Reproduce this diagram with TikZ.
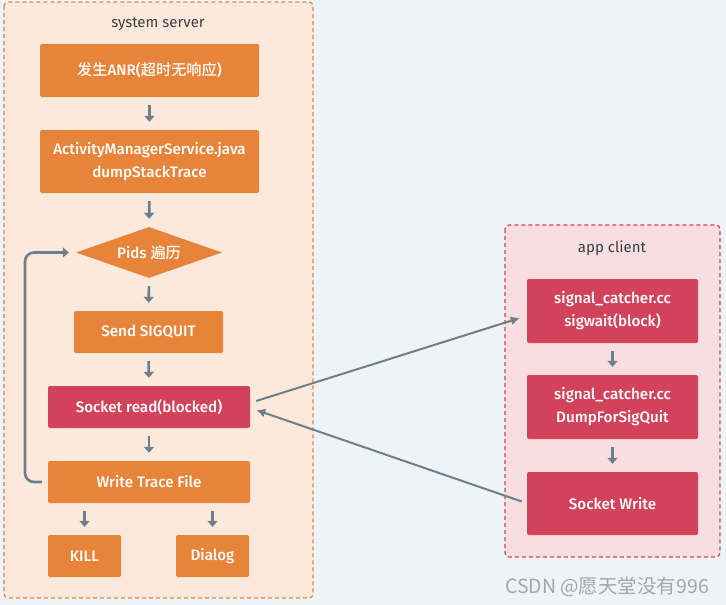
\documentclass[tikz,border=0pt]{standalone}
\usepackage{fontspec}
\setmainfont{Fira Sans}[UprightFont=* Medium]
\newfontfamily\lblfont{Fira Sans}
\newfontfamily\cjk{Noto Sans CJK SC}[UprightFont=* Medium]
\newfontfamily\wmfont{Noto Sans CJK SC}
\usetikzlibrary{shapes.geometric,arrows.meta,calc}
\definecolor{bgc}{HTML}{EEF3F7}
\definecolor{orc}{HTML}{E8843A}
\definecolor{crc}{HTML}{D2435B}
\definecolor{lpan}{HTML}{FCE9DC}
\definecolor{rpan}{HTML}{F8DDE1}
\definecolor{arc}{HTML}{6B7F8E}
\definecolor{labc}{HTML}{3A3F45}
\tikzset{
  obox/.style={fill=orc, rounded corners=2pt, text=white, align=center, font=\fontsize{15.2}{23}\selectfont, inner sep=0pt},
  cbox/.style={fill=crc, rounded corners=2pt, text=white, align=center, font=\fontsize{15.2}{23}\selectfont, inner sep=0pt},
  down/.style={draw=arc, line width=2.6pt, -{Triangle[width=10pt,length=6pt]}, shorten <=8pt, shorten >=8pt},
  cross/.style={draw=arc, line width=2pt, -{Latex[length=9pt,width=9pt]}},
  panel/.style={rounded corners=4pt, dashed, line width=1.2pt, dash pattern=on 4pt off 3pt},
  plabel/.style={text=labc, font=\lblfont\fontsize{15}{18}\selectfont}
}
\begin{document}
\begin{tikzpicture}[x=1pt,y=-1pt]
\useasboundingbox[fill=bgc] (0,0) rectangle (726,605);
% panels
\draw[panel, draw=orc, fill=lpan] (4,2) rectangle (313,598);
\draw[panel, draw=crc, fill=rpan] (505,225) rectangle (720,557);
\node[plabel] (lsys) at (158,24) {system server};
\node[plabel] (lapp) at (612,248) {app client};
% left nodes
\node[obox, minimum width=219pt, minimum height=53pt] (anr) at (149.5,70.5) {{\cjk 发生}ANR({\cjk 超时无响应})};
\node[obox, minimum width=219pt, minimum height=63pt] (ams) at (149.5,161.5) {ActivityManagerService.java\\dumpStackTrace};
\node[diamond, fill=orc, text=white, inner sep=0pt, minimum width=146pt, minimum height=51pt, aspect=2.86, font=\fontsize{15.2}{18}\selectfont] (pids) at (149,252.5) {Pids {\cjk 遍历}};
\node[obox, minimum width=149pt, minimum height=42pt] (send) at (148.5,332) {Send SIGQUIT};
\node[cbox, minimum width=202pt, minimum height=42pt] (sock) at (149,407) {Socket read(blocked)};
\node[obox, minimum width=202pt, minimum height=42pt] (wtf) at (149,482) {Write Trace File};
\node[obox, minimum width=73pt, minimum height=42pt] (kill) at (84.5,556) {KILL};
\node[obox, minimum width=73pt, minimum height=42pt] (dlg) at (212.5,556) {Dialog};
% right nodes
\node[cbox, minimum width=171pt, minimum height=64pt] (sig1) at (612.5,311) {signal\_catcher.cc\\sigwait(block)};
\node[cbox, minimum width=171pt, minimum height=64pt] (sig2) at (612.5,407) {signal\_catcher.cc\\DumpForSigQuit};
\node[cbox, minimum width=171pt, minimum height=63pt] (sw) at (612.5,503.5) {Socket Write};
% vertical arrows
\draw[down] (anr.south) -- (ams.north);
\draw[down] (ams.south) -- (pids.north);
\draw[down] (pids.south) -- (send.north);
\draw[down] (send.south) -- (sock.north);
\draw[down] (sock.south) -- (wtf.north);
\draw[down] (kill.north |- wtf.south) -- (kill.north);
\draw[down] (dlg.north |- wtf.south) -- (dlg.north);
\draw[down] (sig1.south) -- (sig2.north);
\draw[down] (sig2.south) -- (sw.north);
% loop
\coordinate (lpa) at ($(wtf.west)+(-6,0)$);
\coordinate (lpb) at ($(pids.west)+(-7,0)$);
\draw[draw=arc, line width=2.6pt, rounded corners=9pt, -{Triangle[width=10pt,length=6pt]}] (lpa) -- (25,482) -- (25,252.5) -- (lpb);
% cross arrows
\draw[cross] ($(sock.east)+(6,-6)$) -- ($(sig1.west)+(-7,7)$);
\draw[cross] ($(sw.west)+(-5,-2)$) -- ($(sock.east)+(6,3)$);
% watermark
\node[text=gray!70, font=\wmfont\fontsize{19.5}{22}\selectfont] (wm) at (607,587) {CSDN @愿天堂没有996};
\end{tikzpicture}
\end{document}
